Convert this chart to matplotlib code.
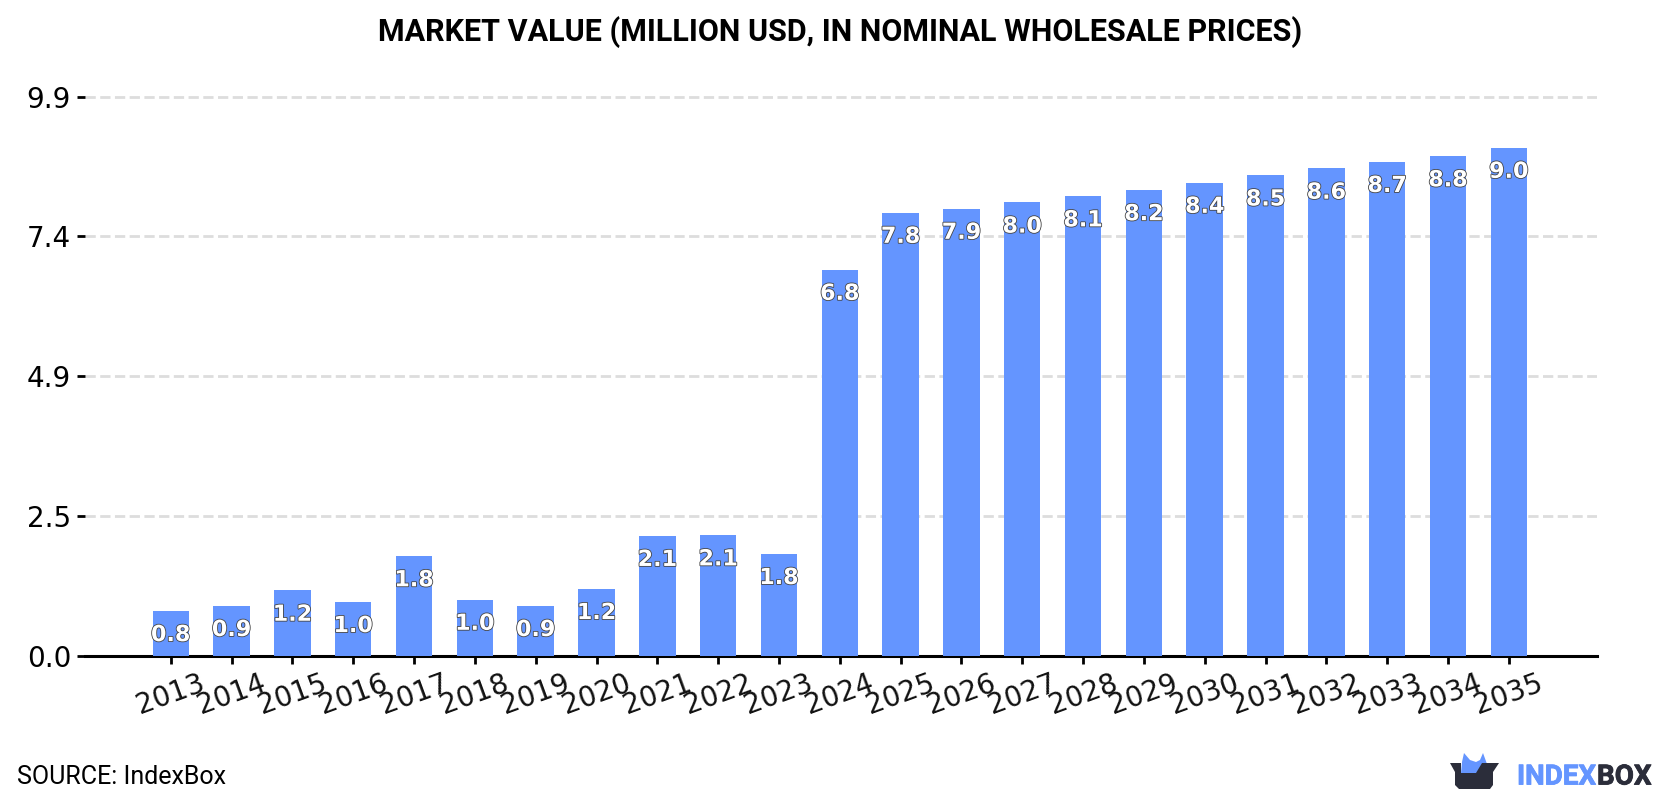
import matplotlib
matplotlib.use("Agg")
import matplotlib.pyplot as plt
import matplotlib.patheffects as pe
from matplotlib.patches import Polygon

W, H = 1680, 800

years = [str(y) for y in range(2013, 2036)]
values = [0.80, 0.89, 1.16, 0.96, 1.77, 1.00, 0.89, 1.19, 2.13, 2.14, 1.81, 6.84,
          7.849, 7.92, 8.03, 8.14, 8.249, 8.38, 8.51, 8.63, 8.749, 8.849, 9.00]
y_ticks = [0.0, 2.475, 4.95, 7.425, 9.9]
y_tick_labels = ["0.0", "2.5", "4.9", "7.4", "9.9"]

BAR_BLUE = "#6495ff"
DARK = "#2b2d3a"

fig = plt.figure(figsize=(W / 100, H / 100), dpi=100, facecolor="white")

# Plot area placed in pixel terms
left, right, top, bottom = 85, 1597, 60, 656
ax = fig.add_axes([left / W, 1 - bottom / H, (right - left) / W, (bottom - top) / H])

positions = list(range(len(years)))
ax.bar(positions, values, width=0.6, color=BAR_BLUE, zorder=3)

ax.set_xlim(-1.41, 23.45)
ax.set_ylim(0, (bottom - top) / 56.5)

ax.set_yticks(y_ticks)
ax.set_yticklabels(y_tick_labels, fontsize=20, color="black")
ax.set_xticks(positions)
ax.set_xticklabels(years, fontsize=20, rotation=20, ha="center", color="#111111")
ax.tick_params(axis="y", length=6, width=2, pad=4)
ax.tick_params(axis="x", length=5.5, width=2, pad=4)
ax.grid(axis="y", color="#dddddd", linewidth=2, linestyle="--", zorder=0)

for side in ("top", "right", "left"):
    ax.spines[side].set_visible(False)
ax.spines["bottom"].set_linewidth(2.2)

# Value labels sit just inside the top of each bar
for x, v in zip(positions, values):
    ax.annotate(f"{v:.1f}", (x, v), xytext=(0, -17.5), textcoords="offset points",
                ha="center", va="center", fontsize=16, fontweight="bold",
                color="white", zorder=4,
                path_effects=[pe.withStroke(linewidth=1.2, foreground="#444444")])

fig.text(0.5, 1 - 32 / H, "MARKET VALUE (MILLION USD, IN NOMINAL WHOLESALE PRICES)",
         ha="center", va="center", fontsize=22, fontweight="bold",
         family="Roboto", color="black")
fig.text(17 / W, 1 - 777 / H, "SOURCE: IndexBox", ha="left", va="center",
         fontsize=18, family="Roboto", color="black")

# Brand mark: an open box with a blue shape rising out of it
overlay = fig.add_axes([0, 0, 1, 1], facecolor="none")
overlay.set_xlim(0, W)
overlay.set_ylim(H, 0)
overlay.axis("off")
overlay.add_patch(Polygon([(1461, 773), (1462, 762), (1464, 753), (1470, 760), (1476, 762),
                           (1480, 760), (1483, 753), (1487, 764), (1478, 773)],
                          closed=True, color=BAR_BLUE, lw=0))
overlay.add_patch(Polygon([(1450, 763), (1461, 763), (1461, 773), (1476, 773), (1482, 763),
                           (1499, 763), (1493, 772), (1493, 785), (1490, 789), (1459, 789),
                           (1455, 785), (1455, 772)],
                          closed=True, color=DARK, lw=0))
overlay.text(1517, 774, "INDEX", ha="left", va="center_baseline", fontsize=20, fontweight="bold",
             family="Roboto", color=BAR_BLUE,
             path_effects=[pe.withStroke(linewidth=0.6, foreground=BAR_BLUE)])
overlay.text(1597, 774, "BOX", ha="left", va="center_baseline", fontsize=20, fontweight="bold",
             family="Roboto", color=DARK,
             path_effects=[pe.withStroke(linewidth=0.6, foreground=DARK)])

fig.savefig("out.png", dpi=100, facecolor="white")
